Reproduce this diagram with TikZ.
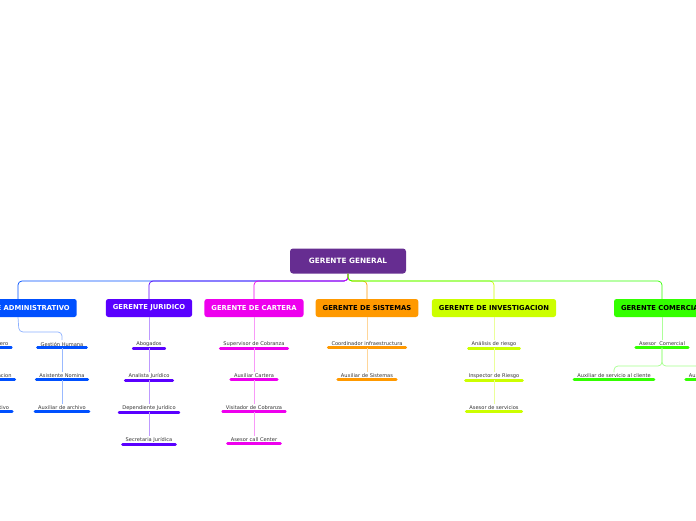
\documentclass[tikz,border=0pt]{standalone}
\usepackage{fontspec}
\setmainfont{DejaVu Sans}
\begin{document}
\begin{tikzpicture}[x=1pt,y=-1pt]
\definecolor{cgg}{HTML}{662D91}
\definecolor{cad}{HTML}{0050FF}
\definecolor{cju}{HTML}{5A00FF}
\definecolor{cca}{HTML}{EE00EE}
\definecolor{csi}{HTML}{FF9900}
\definecolor{cin}{HTML}{CCFF00}
\definecolor{cco}{HTML}{33FF00}
\definecolor{tx}{HTML}{333333}
\useasboundingbox (0,0) rectangle (696,520);
\tikzset{
 mgr/.style={fill=#1,rounded corners=2.5pt,minimum height=18pt,inner xsep=7pt,font=\bfseries\fontsize{6.8}{8}\selectfont},
 leaf/.style={text=tx,font=\fontsize{5.1}{6}\selectfont,inner xsep=4pt,inner ysep=1.5pt},
 bar/.style={line width=2.8pt,line cap=round,draw=#1},
 link/.style={draw=#1,line width=0.7pt,rounded corners=4pt},
 vl/.style={draw=#1!40,line width=0.8pt}
}
\newcommand{\leafnode}[5]{\node[leaf] (#1) at (#2,#3) {#4};
 \draw[bar=#5] ([xshift=1pt]#1.south west) -- ([xshift=-1pt]#1.south east);}
\node[fill=cgg,text=white,rounded corners=3pt,minimum height=25pt,minimum width=116pt,font=\bfseries\fontsize{7.3}{8}\selectfont] (gg) at (348,261) {GERENTE GENERAL};
\node[mgr=cad,text=white] (ad) at (18,308) {GERENTE ADMINISTRATIVO};
\node[mgr=cju,text=white] (ju) at (149,308) {GERENTE JURIDICO};
\node[mgr=cca,text=white] (ca) at (254,308) {GERENTE DE CARTERA};
\node[mgr=csi,text=black] (si) at (367,308) {GERENTE DE SISTEMAS};
\node[mgr=cin,text=black] (in) at (494,308) {GERENTE DE INVESTIGACION};
\node[mgr=cco,text=black] (co) at (662,308) {GERENTE COMERCIAL};
\coordinate (bus) at (348,281);
\foreach \m/\c in {ad/cad,ju/cju,ca/cca,si/csi,in/cin,co/cco}
 \draw[link=\c] (gg.south) -- (bus) -| (\m.north);
% administrativo
\leafnode{a1}{-16}{344}{Gerente Financiero}{cad}
\leafnode{a2}{-22}{376}{Auxiliar de Administracion}{cad}
\leafnode{a3}{-20}{408}{Auxiliar Administrativo}{cad}
\leafnode{a4}{-22}{440}{Mensajero}{cad}
\leafnode{b1}{62}{344}{Gestión Humana}{cad}
\leafnode{b2}{62}{376}{Asistente Nomina}{cad}
\leafnode{b3}{62}{408}{Auxiliar de archivo}{cad}
\draw[link=cad!45] (ad.south) -- (19,332) -| (b1.north);
\draw[vl=cad] (b1.south) -- (b2.north);
\draw[vl=cad] (b2.south) -- (b3.north);
% juridico
\leafnode{j1}{149}{344}{Abogados}{cju}
\leafnode{j2}{149}{376}{Analista Jurídico}{cju}
\leafnode{j3}{149}{408}{Dependiente Jurídico}{cju}
\leafnode{j4}{149}{440}{Secretaria Jurídica}{cju}
\draw[vl=cju] (ju.south) -- (j1.north);
\foreach \a/\b in {j1/j2,j2/j3,j3/j4} \draw[vl=cju] (\a.south) -- (\b.north);
% cartera
\leafnode{c1}{254}{344}{Supervisor de Cobranza}{cca}
\leafnode{c2}{254}{376}{Auxiliar Cartera}{cca}
\leafnode{c3}{254}{408}{Visitador de Cobranza}{cca}
\leafnode{c4}{254}{440}{Asesor call Center}{cca}
\draw[vl=cca] (ca.south) -- (c1.north);
\foreach \a/\b in {c1/c2,c2/c3,c3/c4} \draw[vl=cca] (\a.south) -- (\b.north);
% sistemas
\leafnode{s1}{367}{344}{Coordinador infraestructura}{csi}
\leafnode{s2}{367}{376}{Auxiliar de Sistemas}{csi}
\draw[vl=csi] (si.south) -- (s1.north);
\draw[vl=csi] (s1.south) -- (s2.north);
% investigacion
\leafnode{i1}{494}{344}{Análisis de riesgo}{cin}
\leafnode{i2}{494}{376}{Inspector de Riesgo}{cin}
\leafnode{i3}{494}{408}{Asesor de servicios}{cin}
\draw[vl=cin] (in.south) -- (i1.north);
\foreach \a/\b in {i1/i2,i2/i3} \draw[vl=cin] (\a.south) -- (\b.north);
% comercial
\leafnode{k1}{662}{344}{Asesor\ \ Comercial}{cco}
\leafnode{k2}{614}{376}{Auxiliar de servicio al cliente}{cco}
\leafnode{k3}{712}{376}{Auxiliar de Ventas}{cco}
\draw[vl=cco] (co.south) -- (k1.north);
\draw[link=cco!45] (k1.south) -- (662,366) -| (k2.north);
\draw[link=cco!45] (k1.south) -- (662,366) -| (k3.north);
\end{tikzpicture}
\end{document}
